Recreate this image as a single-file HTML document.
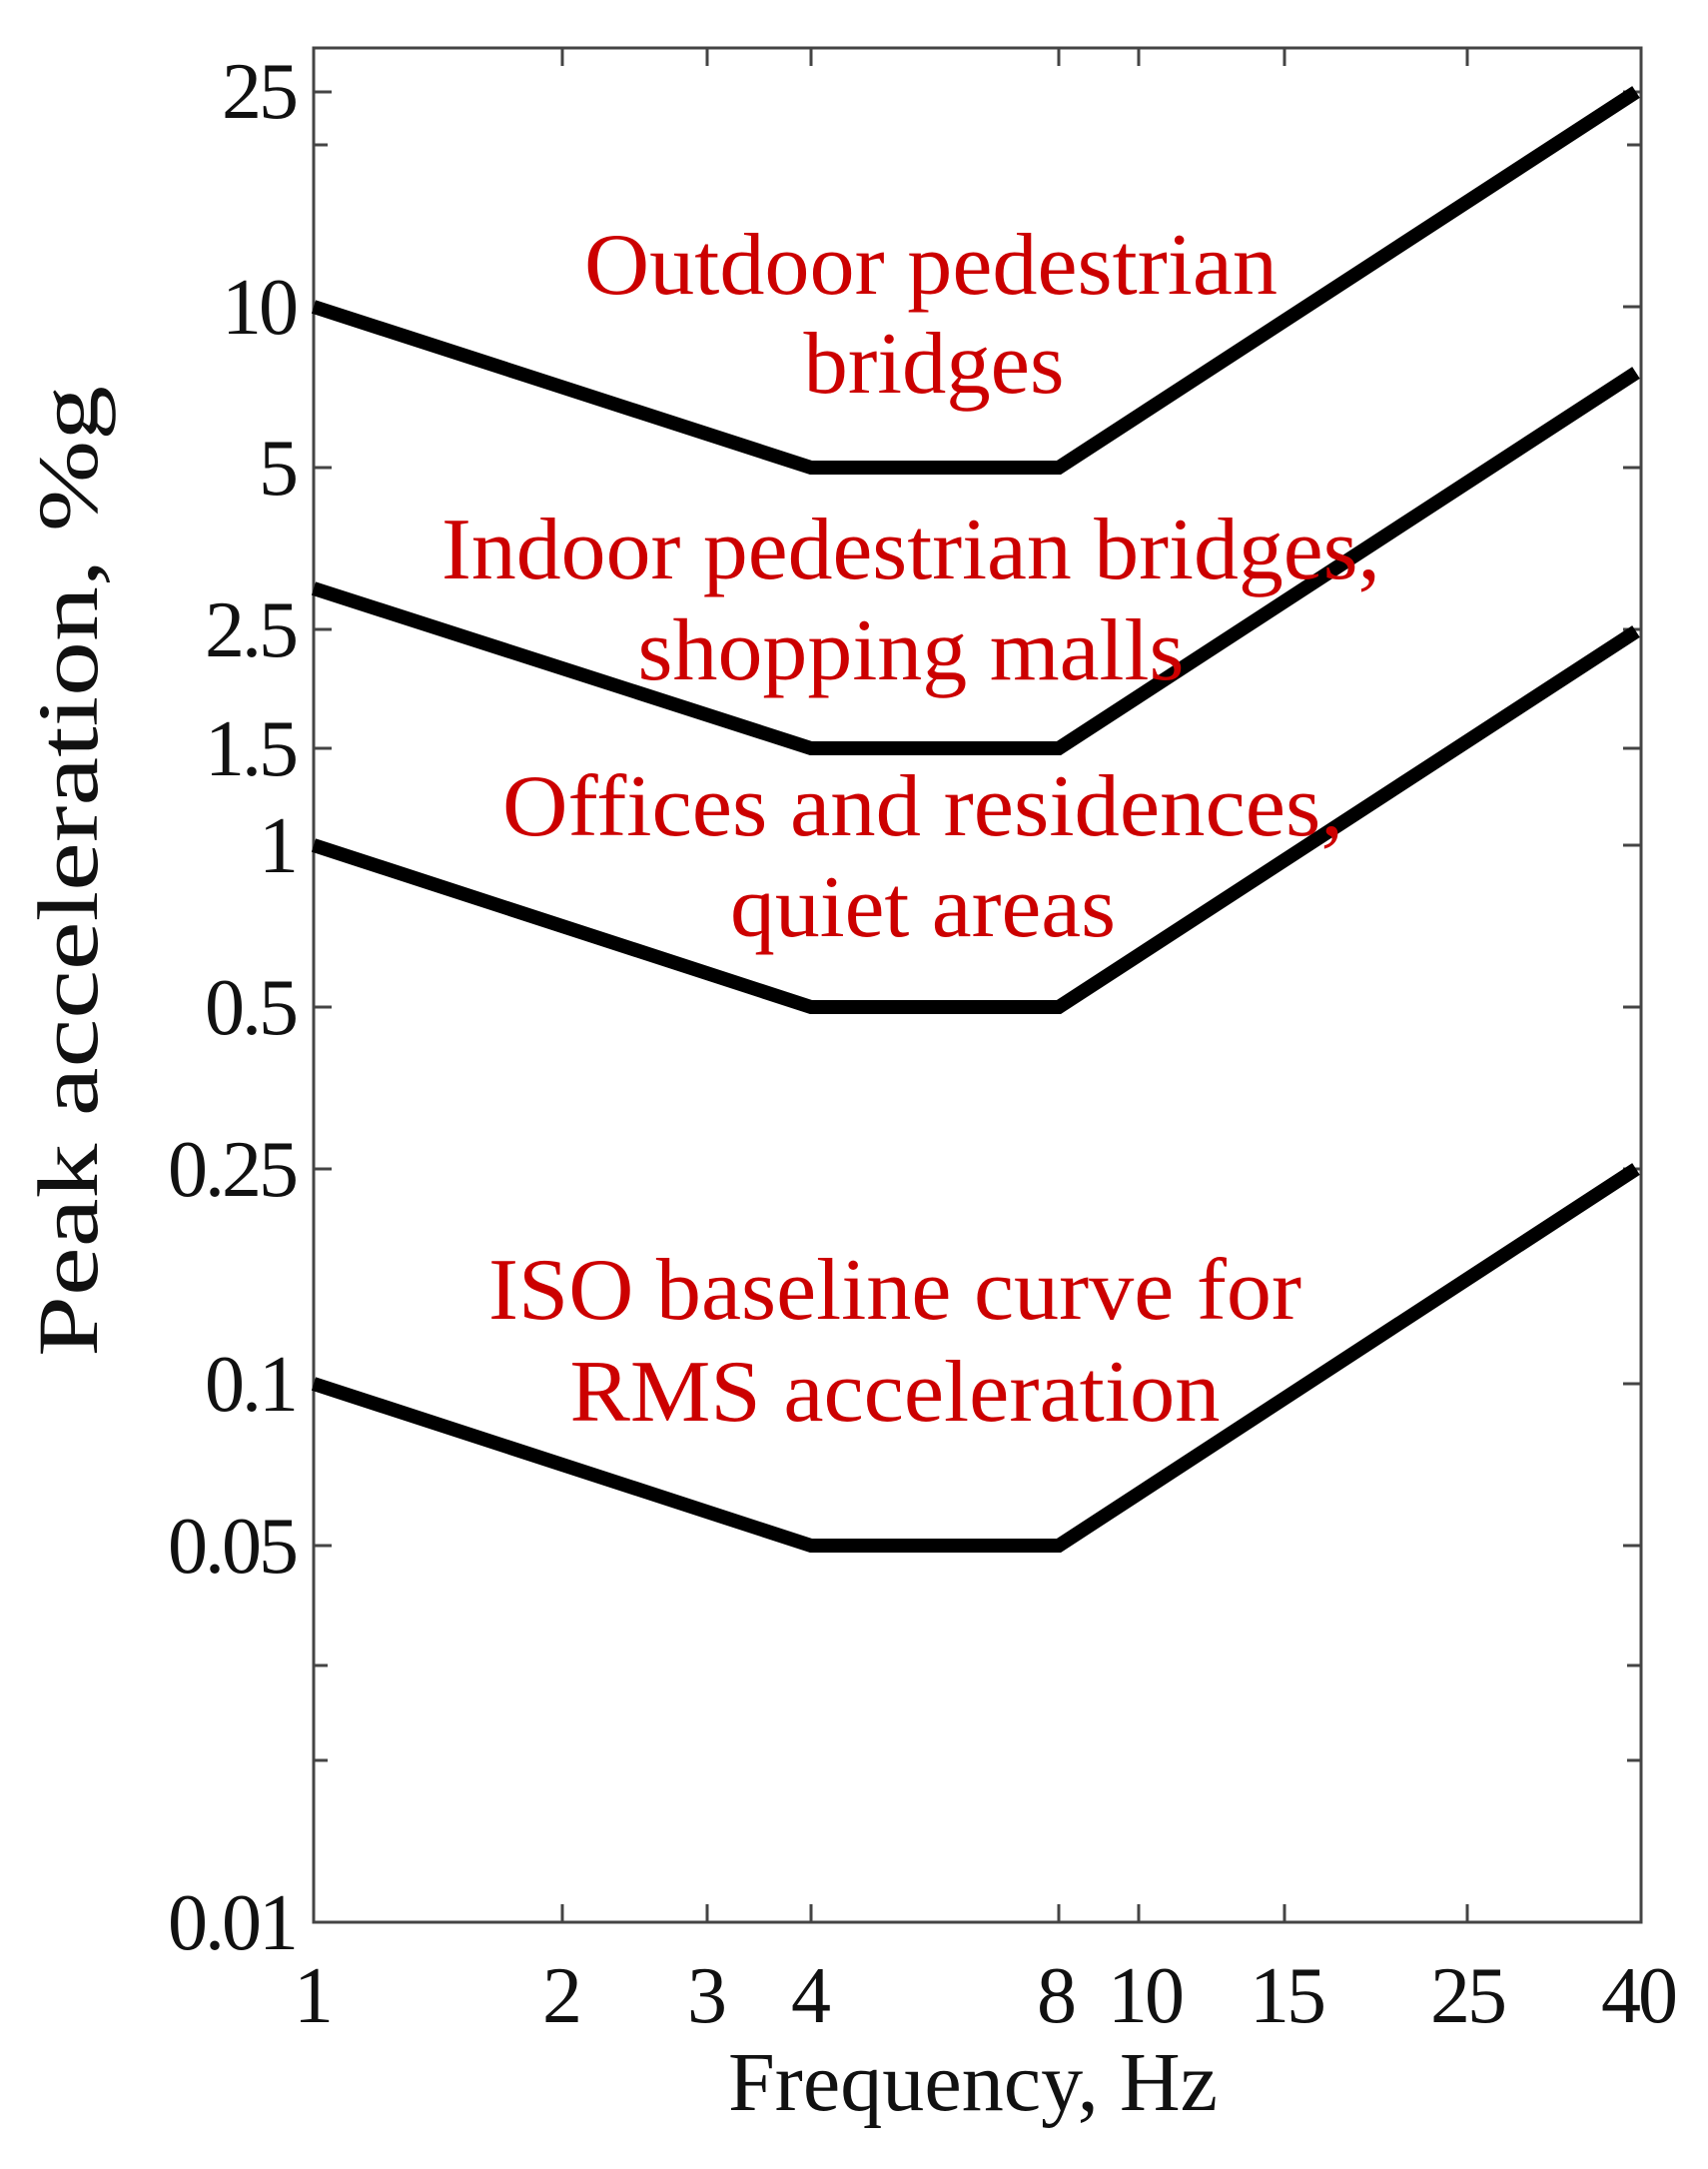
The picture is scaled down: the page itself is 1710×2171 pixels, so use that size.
<!DOCTYPE html>
<html><head><meta charset="utf-8"><style>html,body{margin:0;padding:0;background:#fff}</style></head>
<body>
<svg width="1710" height="2166" viewBox="0 0 1710 2166" xmlns="http://www.w3.org/2000/svg" font-family="Liberation Serif, serif">
<rect width="1710" height="2166" fill="#fff"/>
<g stroke="#444" stroke-width="3" fill="none">
<rect x="314" y="48" width="1329" height="1876"/>
<path d="M314 92h18M314 145h14M314 307h18M314 468h18M314 630h18M314 749h18M314 846h18M314 1008h18M314 1170h18M314 1385h18M314 1547h18M314 1667h14M314 1762h14
M1643 92h-18M1643 145h-14M1643 307h-18M1643 468h-18M1643 630h-18M1643 749h-18M1643 846h-18M1643 1008h-18M1643 1170h-18M1643 1385h-18M1643 1547h-18M1643 1667h-14M1643 1762h-14"/>
<path d="M563 1924v-18M708 1924v-18M812 1924v-18M1060 1924v-18M1140 1924v-18M1286 1924v-18M1469 1924v-18
M563 48v18M708 48v18M812 48v18M1060 48v18M1140 48v18M1286 48v18M1469 48v18"/>
</g>
<g stroke="#000" stroke-width="14" fill="none" stroke-linejoin="miter">
<polyline points="314,307 812,468 1060,468 1638,92"/>
<polyline points="314,589 812,749 1060,749 1638,373"/>
<polyline points="314,846 812,1008 1060,1008 1638,632"/>
<polyline points="314,1385 812,1547 1060,1547 1638,1170"/>
</g>
<g font-size="80" fill="#111" text-anchor="end" letter-spacing="-3">
<text x="296" y="118">25</text>
<text x="296" y="334">10</text>
<text x="296" y="495">5</text>
<text x="296" y="657">2.5</text>
<text x="296" y="776">1.5</text>
<text x="296" y="873">1</text>
<text x="296" y="1035">0.5</text>
<text x="296" y="1197">0.25</text>
<text x="296" y="1412">0.1</text>
<text x="296" y="1574">0.05</text>
<text x="296" y="1951">0.01</text>
</g>
<g font-size="80" fill="#111" text-anchor="middle">
<text x="314" y="2024">1</text>
<text x="563" y="2024">2</text>
<text x="708" y="2024">3</text>
<text x="812" y="2024">4</text>
<text x="1058" y="2024">8</text>
<text x="1146" y="2024" letter-spacing="-3">10</text>
<text x="1288" y="2024" letter-spacing="-3">15</text>
<text x="1469" y="2024" letter-spacing="-3">25</text>
<text x="1640" y="2024" letter-spacing="-3">40</text>
<text x="974" y="2112" textLength="490" lengthAdjust="spacingAndGlyphs" font-size="84">Frequency, Hz</text>
<text transform="translate(97,872) rotate(-90)" textLength="972" lengthAdjust="spacingAndGlyphs" font-size="86">Peak acceleration, %g</text>
</g>
<g font-size="88" fill="#cc0000" text-anchor="middle">
<text x="932" y="294" textLength="694" lengthAdjust="spacingAndGlyphs">Outdoor pedestrian</text>
<text x="935" y="393" textLength="261" lengthAdjust="spacingAndGlyphs">bridges</text>
<text x="912" y="579" textLength="940" lengthAdjust="spacingAndGlyphs">Indoor pedestrian bridges,</text>
<text x="912" y="680" textLength="547" lengthAdjust="spacingAndGlyphs">shopping malls</text>
<text x="924" y="836" textLength="842" lengthAdjust="spacingAndGlyphs">Offices and residences,</text>
<text x="924" y="937" textLength="386" lengthAdjust="spacingAndGlyphs">quiet areas</text>
<text x="896" y="1320" textLength="814" lengthAdjust="spacingAndGlyphs">ISO baseline curve for</text>
<text x="896" y="1422" textLength="651" lengthAdjust="spacingAndGlyphs">RMS acceleration</text>
</g>
</svg>
</body></html>
